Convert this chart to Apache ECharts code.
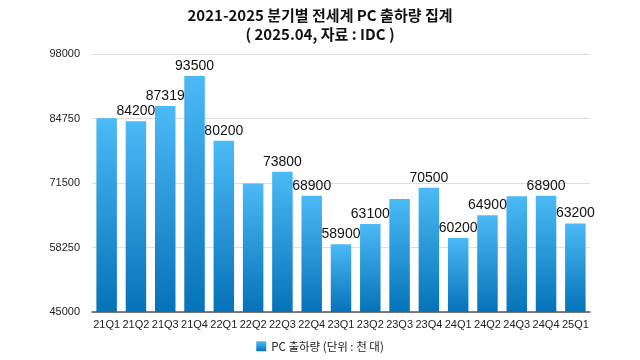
<!DOCTYPE html>
<html><head><meta charset="utf-8">
<script src="https://cdn.jsdelivr.net/npm/echarts@6/dist/echarts.min.js"></script>
<style>html,body{margin:0;padding:0;background:#fff}#c{width:640px;height:360px}</style>
</head><body><div id="c"></div>
<script>
const categories = ['21Q1','21Q2','21Q3','21Q4','22Q1','22Q2','22Q3','22Q4','23Q1','23Q2','23Q3','23Q4','24Q1','24Q2','24Q3','24Q4','25Q1'];
const shipments = [84800,84200,87319,93500,80200,71400,73800,68900,58900,63100,68200,70500,60200,64900,68800,68900,63200];
const showLabel = [false,true,true,true,true,false,true,true,true,true,false,true,true,true,false,true,true];
const seriesName = 'PC 출하량 (단위 : 천 대)';
const yMin = 45000, yMax = 98000, yStep = 13250;

const chart = echarts.init(document.getElementById('c'));
chart.setOption({
  animation:false,
  title:{
    text:'2021-2025 분기별 전세계 PC 출하량 집계\n( 2025.04, 자료 : IDC )',
    left:'center', top:1,
    textStyle:{fontFamily:'Noto Sans CJK KR', fontWeight:'bold', fontSize:15, color:'#111', lineHeight:19}
  },
  legend:{
    bottom:3, left:'center', itemWidth:10, itemHeight:10, icon:'rect',
    textStyle:{fontFamily:'Noto Sans CJK KR', fontSize:11.5, color:'#222'},
    data:[seriesName]
  },
  grid:{left:92, right:50, top:54, bottom:48},
  xAxis:{
    type:'category', data:categories,
    axisLine:{lineStyle:{color:'#555', width:1.5}},
    axisTick:{show:false},
    axisLabel:{fontFamily:'Liberation Sans', fontSize:11, color:'#222', margin:7, interval:0}
  },
  yAxis:{
    type:'value', min:yMin, max:yMax, interval:yStep,
    axisLine:{show:false}, axisTick:{show:false},
    axisLabel:{fontFamily:'Liberation Sans', fontSize:11, color:'#222', margin:12, formatter:v=>String(v)},
    splitLine:{lineStyle:{color:'#ddd'}}
  },
  series:[{
    name:seriesName, type:'bar', barCategoryGap:'30%',
    data: shipments.map((v,i)=>({value:v, label:{show:showLabel[i]}})),
    itemStyle:{color:new echarts.graphic.LinearGradient(0,0,0,1,[{offset:0,color:'#4bbaf6'},{offset:1,color:'#0672b8'}])},
    label:{position:'top', distance:3, fontFamily:'Liberation Sans', fontSize:14, color:'#111'}
  }]
});
</script></body></html>
